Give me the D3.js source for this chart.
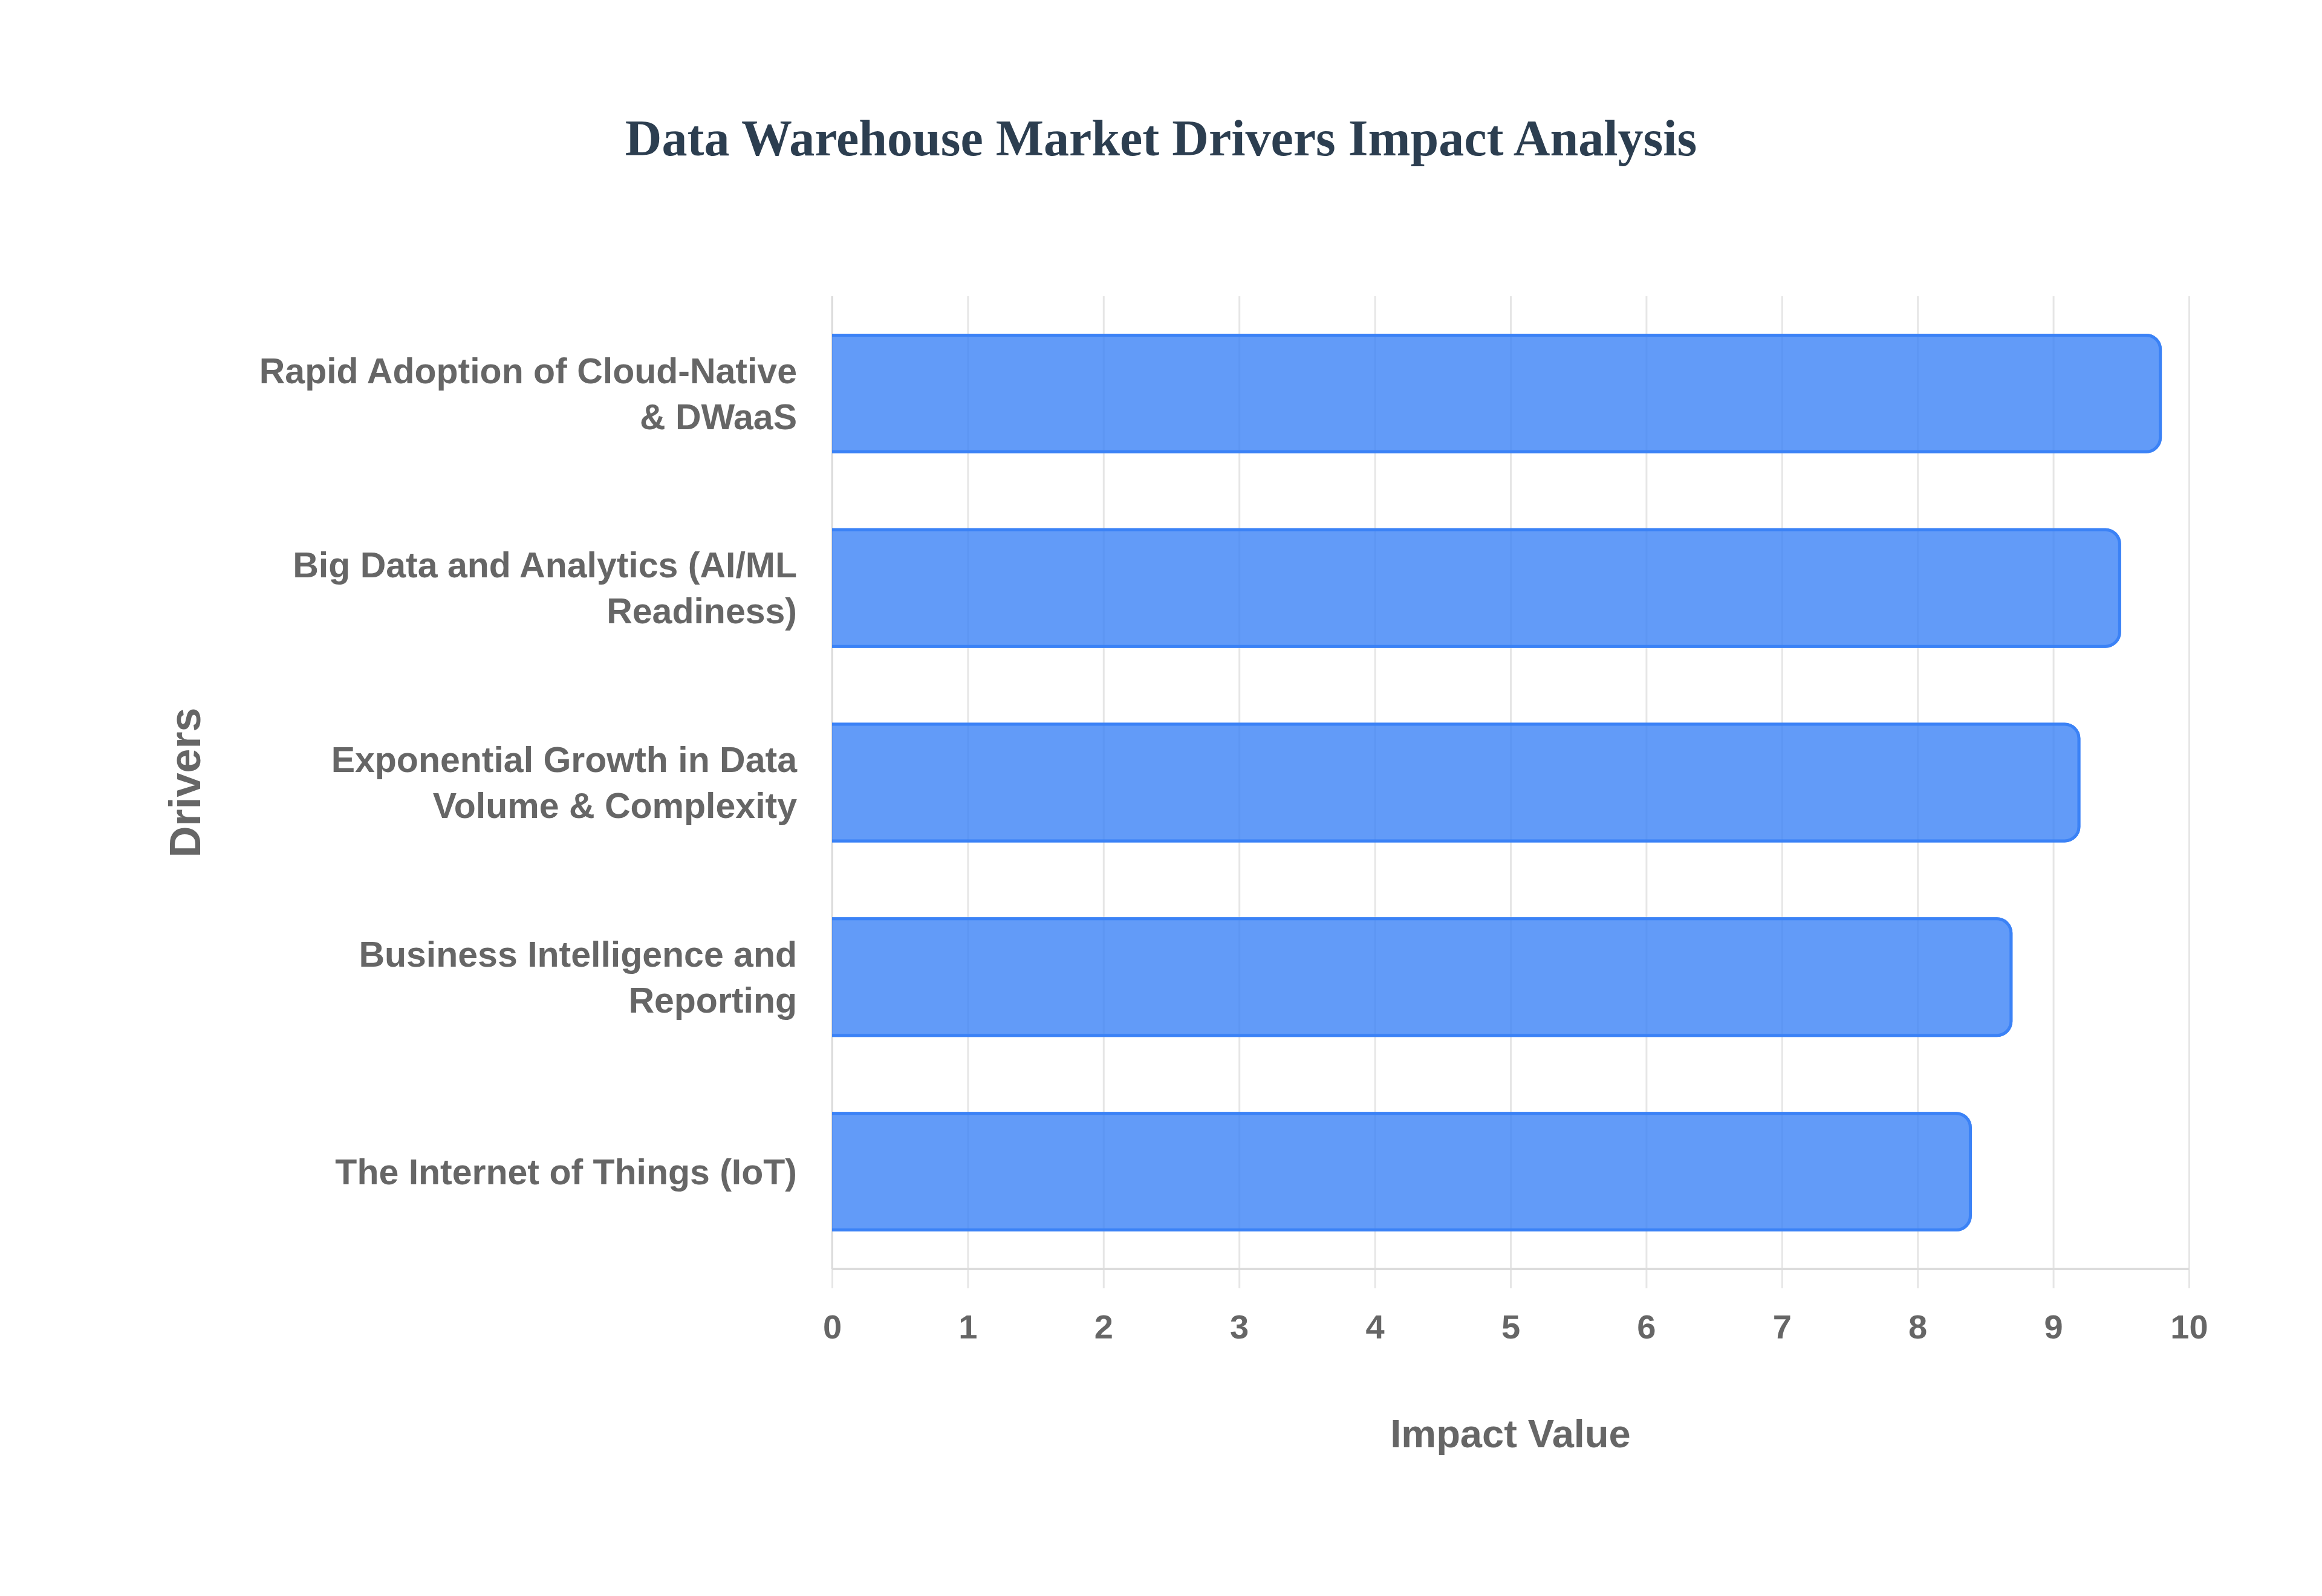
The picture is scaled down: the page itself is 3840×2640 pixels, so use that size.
<!DOCTYPE html>
<html>
<head>
<meta charset="utf-8">
<script src="https://cdn.jsdelivr.net/npm/d3@7"></script>
<style>
  html, body { margin: 0; padding: 0; background: #ffffff; }
  svg { display: block; }
</style>
</head>
<body>
<svg id="chart"></svg>
<script>
// ---- Data ----
const categories = [
  ["Rapid Adoption of Cloud-Native", "& DWaaS"],
  ["Big Data and Analytics (AI/ML", "Readiness)"],
  ["Exponential Growth in Data", "Volume & Complexity"],
  ["Business Intelligence and", "Reporting"],
  ["The Internet of Things (IoT)"]
];
const impactValues = [9.8, 9.5, 9.2, 8.7, 8.4];
const xTicks = [0, 1, 2, 3, 4, 5, 6, 7, 8, 9, 10];
const chartTitle = "Data Warehouse Market Drivers Impact Analysis";
const xAxisTitle = "Impact Value";
const yAxisTitle = "Drivers";

// ---- Layout ----
const W = 3840, H = 2640;
const plot = { left: 1376, right: 3620, top: 490, bottom: 2099 };

const svg = d3.select("#chart").attr("width", W).attr("height", H);

const x = d3.scaleLinear().domain([0, 10]).range([plot.left, plot.right]);
const y = d3.scaleBand()
  .domain(categories.map((d, i) => i))
  .range([plot.top, plot.bottom])
  .paddingInner(0.385)
  .paddingOuter(0.1925);

// Title
svg.append("text")
  .attr("x", W / 2).attr("y", 257)
  .attr("text-anchor", "middle")
  .attr("font-family", "'Liberation Serif', 'Times New Roman', serif")
  .attr("font-weight", "bold")
  .attr("font-size", 84)
  .attr("fill", "#2c3e50")
  .text(chartTitle);

// Vertical gridlines (with tick extension below axis)
const xAxis = d3.axisBottom(x).tickValues(xTicks).tickSize(-(plot.bottom - plot.top)).tickFormat("");
const gGrid = svg.append("g").attr("transform", `translate(0,${plot.bottom})`).call(xAxis);
gGrid.select(".domain").remove();
gGrid.selectAll(".tick line").attr("stroke", "#e6e6e6").attr("stroke-width", 3);
gGrid.selectAll(".tick").append("line")
  .attr("y1", 0).attr("y2", 32).attr("stroke", "#e6e6e6").attr("stroke-width", 3);

// Bottom axis line
svg.append("line")
  .attr("x1", plot.left).attr("x2", plot.right)
  .attr("y1", plot.bottom).attr("y2", plot.bottom)
  .attr("stroke", "#dcdcdc").attr("stroke-width", 4);
// Left axis line
svg.append("line")
  .attr("x1", plot.left).attr("x2", plot.left)
  .attr("y1", plot.top).attr("y2", plot.bottom)
  .attr("stroke", "#dcdcdc").attr("stroke-width", 3);

// Tick labels
const gTickLabels = svg.append("g").attr("transform", `translate(0,${plot.bottom})`)
  .call(d3.axisBottom(x).tickValues(xTicks).tickSize(0).tickPadding(0).tickFormat(d3.format("d")));
gTickLabels.select(".domain").remove();
gTickLabels.selectAll("text")
  .attr("y", 95)
  .attr("dy", "0.35em")
  .attr("font-family", "'Liberation Sans', Arial, sans-serif")
  .attr("font-weight", "bold")
  .attr("font-size", 56)
  .attr("fill", "#666666");

// Bars
const r = 26;
const bw = y.bandwidth();
const bars = svg.append("g");
categories.forEach((c, i) => {
  const x0 = x(0), x1 = x(impactValues[i]);
  const y0 = y(i), y1 = y(i) + bw;
  const fillPath = `M${x0},${y0} H${x1 - r} A${r},${r} 0 0 1 ${x1},${y0 + r} V${y1 - r} A${r},${r} 0 0 1 ${x1 - r},${y1} H${x0} Z`;
  bars.append("path").attr("d", fillPath).attr("fill", "rgba(59,130,246,0.8)");
  const s = 2.5;
  const rr = r - s;
  const strokePath = `M${x0},${y0 + s} H${x1 - s - rr} A${rr},${rr} 0 0 1 ${x1 - s},${y0 + s + rr} V${y1 - s - rr} A${rr},${rr} 0 0 1 ${x1 - s - rr},${y1 - s} H${x0}`;
  bars.append("path").attr("d", strokePath).attr("fill", "none")
    .attr("stroke", "#3b82f6").attr("stroke-width", 5);
});

// Y category labels
const lineH = 76;
const gY = svg.append("g");
categories.forEach((lines, i) => {
  const cy = y(i) + bw / 2;
  const t = gY.append("text")
    .attr("text-anchor", "end")
    .attr("font-family", "'Liberation Sans', Arial, sans-serif")
    .attr("font-weight", "bold")
    .attr("font-size", 59)
    .attr("fill", "#666666");
  lines.forEach((ln, k) => {
    t.append("tspan")
      .attr("x", 1318)
      .attr("y", cy + (k - (lines.length - 1) / 2) * lineH)
      .attr("dy", "0.35em")
      .text(ln);
  });
});

// Axis titles
svg.append("text")
  .attr("x", (plot.left + plot.right) / 2).attr("y", 2371)
  .attr("dy", "0.35em")
  .attr("text-anchor", "middle")
  .attr("font-family", "'Liberation Sans', Arial, sans-serif")
  .attr("font-weight", "bold")
  .attr("font-size", 65)
  .attr("fill", "#666666")
  .text(xAxisTitle);

svg.append("text")
  .attr("transform", `translate(306,${(plot.top + plot.bottom) / 2}) rotate(-90)`)
  .attr("dy", "0.35em")
  .attr("text-anchor", "middle")
  .attr("font-family", "'Liberation Sans', Arial, sans-serif")
  .attr("font-weight", "bold")
  .attr("font-size", 72)
  .attr("fill", "#666666")
  .text(yAxisTitle);
</script>
</body>
</html>
